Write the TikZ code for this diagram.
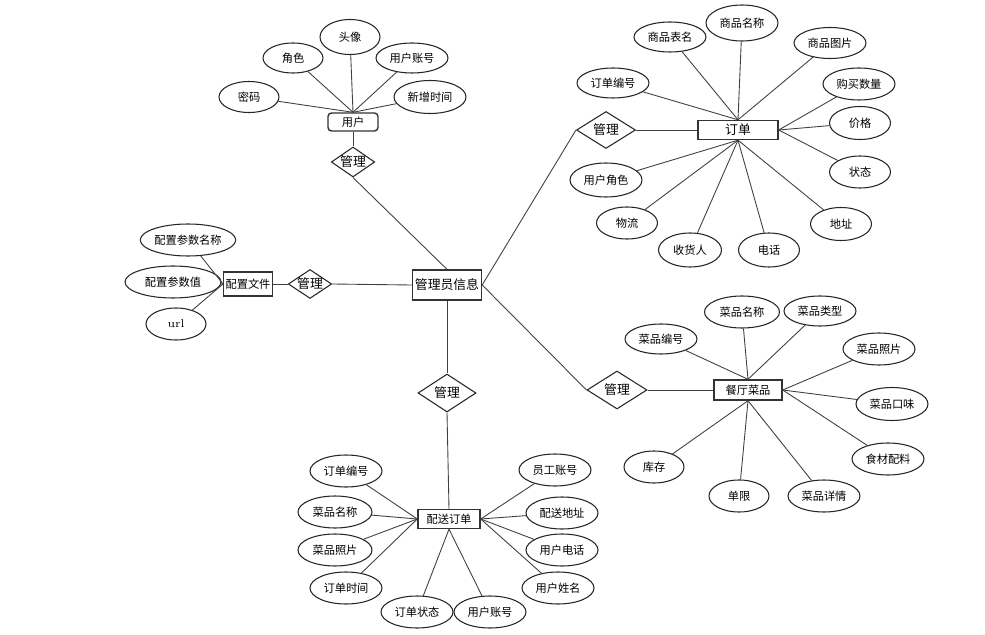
\documentclass[tikz,border=0pt]{standalone}
\usepackage{fontspec}
\newfontfamily\cjk{Noto Sans CJK SC}
\usetikzlibrary{shapes.geometric}
\begin{document}
\begin{tikzpicture}[x=0.02cm,y=-0.02cm,
  conn/.style={draw=black!75, line width=0.5pt},
  attr/.style={ellipse, draw=black!85, line width=0.6pt, inner sep=0pt,
    minimum width=72*0.02cm, minimum height=32*0.02cm, font=\cjk\fontsize{6.4}{7}\selectfont},
  attrs/.style={attr, minimum width=61*0.02cm},
  ent/.style={rectangle, draw=black!80, line width=0.8pt, inner sep=1pt,
    font=\cjk\fontsize{6.4}{7}\selectfont},
  rel/.style={diamond, draw=black!85, line width=0.6pt, inner sep=0pt, shape aspect=1.5,
    font=\cjk\fontsize{7.3}{8}\selectfont}
]
\path[use as bounding box, fill=white] (0,0) rectangle (985,635);

% ---------- central entity ----------
\node[ent, minimum width=69*0.02cm, minimum height=30*0.02cm, font=\cjk\fontsize{7.3}{8}\selectfont] (admin) at (447,285) {管理员信息};

% ---------- user ----------
\node[ent, rounded corners=2pt, minimum width=50*0.02cm, minimum height=18*0.02cm] (user) at (353,122) {用户};
\node[rel, minimum width=43*0.02cm, minimum height=30*0.02cm] (r1) at (353,162) {管理};
\node[attrs, minimum width=60*0.02cm, minimum height=31*0.02cm] (u1) at (249,97) {密码};
\node[attrs, minimum width=60*0.02cm, minimum height=30*0.02cm] (u2) at (293,58) {角色};
\node[attrs, minimum width=60*0.02cm, minimum height=35*0.02cm] (u3) at (350,37) {头像};
\node[attr, minimum height=30*0.02cm] (u4) at (412,58) {用户账号};
\node[attr, minimum height=33*0.02cm] (u5) at (430,97) {新增时间};
\foreach \a in {u1,u2,u3,u4,u5} \draw[conn] (\a) -- (user.north);
\draw[conn] (user.south) -- (r1.north);
\draw[conn] (r1.south) -- (admin.north);

% ---------- config ----------
\node[ent, minimum width=48*0.02cm, minimum height=24*0.02cm] (cfg) at (248,284) {配置文件};
\node[rel, minimum width=42*0.02cm, minimum height=27*0.02cm] (r2) at (310,284) {管理};
\node[attr, minimum width=92*0.02cm] (c1) at (188,240) {配置参数名称};
\node[attr, minimum width=96*0.02cm] (c2) at (173,282) {配置参数值};
\node[attrs, minimum width=60*0.02cm, font=\fontsize{6.4}{7}\selectfont] (c3) at (176,324) {url};
\foreach \a in {c1,c2,c3} \draw[conn] (\a) -- (cfg.west);
\draw[conn] (cfg.east) -- (r2.west);
\draw[conn] (r2.east) -- (admin.west);

% ---------- order ----------
\node[ent, minimum width=80*0.02cm, minimum height=19*0.02cm, font=\cjk\fontsize{7.3}{8}\selectfont] (order) at (738,130) {订单};
\node[rel, minimum width=59*0.02cm, minimum height=37*0.02cm] (r4) at (606,130) {管理};
\node[attr, minimum height=30*0.02cm] (o1) at (613,83) {订单编号};
\node[attr, minimum height=30*0.02cm] (o2) at (670,37) {商品表名};
\node[attr, minimum height=36*0.02cm] (o3) at (742,23) {商品名称};
\node[attr, minimum height=31*0.02cm] (o4) at (830,43) {商品图片};
\node[attr] (o5) at (859,84) {购买数量};
\node[attrs, minimum height=33*0.02cm] (o6) at (860,123) {价格};
\node[attrs] (o7) at (860,172) {状态};
\node[attrs, minimum height=33*0.02cm] (o8) at (841,224) {地址};
\node[attrs, minimum height=34*0.02cm] (o9) at (769,250) {电话};
\node[attrs, minimum width=63*0.02cm, minimum height=34*0.02cm] (o10) at (690,250) {收货人};
\node[attrs] (o11) at (627,223) {物流};
\node[attr, minimum height=34*0.02cm] (o12) at (606,180) {用户角色};
\foreach \a in {o1,o2,o3,o4} \draw[conn] (\a) -- (order.north);
\foreach \a in {o5,o6,o7} \draw[conn] (\a) -- (order.east);
\foreach \a in {o8,o9,o10,o11,o12} \draw[conn] (\a) -- (order.south);
\draw[conn] (order.west) -- (r4.east);
\draw[conn] (r4.west) -- (admin.east);

% ---------- dishes ----------
\node[ent, minimum width=68*0.02cm, minimum height=20*0.02cm] (dish) at (748,390) {餐厅菜品};
\node[rel, minimum width=60*0.02cm, minimum height=38*0.02cm] (r5) at (617,390) {管理};
\node[attr, minimum height=30*0.02cm] (d1) at (661,339) {菜品编号};
\node[attr, minimum width=75*0.02cm] (d2) at (742,312) {菜品名称};
\node[attr, minimum height=30*0.02cm] (d3) at (820,311) {菜品类型};
\node[attr] (d4) at (879,349) {菜品照片};
\node[attr, minimum height=33*0.02cm] (d5) at (892,404) {菜品口味};
\node[attr] (d6) at (888,459) {食材配料};
\node[attr] (d7) at (824,496) {菜品详情};
\node[attrs, minimum width=60*0.02cm] (d8) at (739,496) {单限};
\node[attrs, minimum width=60*0.02cm] (d9) at (654,467) {库存};
\foreach \a in {d1,d2,d3} \draw[conn] (\a) -- (dish.north);
\foreach \a in {d4,d5,d6} \draw[conn] (\a) -- (dish.east);
\foreach \a in {d7,d8,d9} \draw[conn] (\a) -- (dish.south);
\draw[conn] (admin.east) -- (r5.west);
\draw[conn] (r5.east) -- (dish.west);

% ---------- delivery ----------
\node[ent, minimum width=62*0.02cm, minimum height=19*0.02cm] (dord) at (449,519) {配送订单};
\node[rel, minimum width=58*0.02cm, minimum height=38*0.02cm] (r3) at (447,393) {管理};
\node[attr] (p1) at (346,471) {订单编号};
\node[attr, minimum width=74*0.02cm] (p2) at (335,512) {菜品名称};
\node[attr, minimum width=74*0.02cm] (p3) at (335,550) {菜品照片};
\node[attr] (p4) at (346,588) {订单时间};
\node[attr] (p5) at (417,612) {订单状态};
\node[attr] (p6) at (490,612) {用户账号};
\node[attr] (p7) at (555,470) {员工账号};
\node[attr] (p8) at (562,513) {配送地址};
\node[attr] (p9) at (562,550) {用户电话};
\node[attr] (p10) at (558,588) {用户姓名};
\foreach \a in {p1,p2,p3,p4} \draw[conn] (\a) -- (dord.west);
\foreach \a in {p5,p6} \draw[conn] (\a) -- (dord.south);
\foreach \a in {p7,p8,p9,p10} \draw[conn] (\a) -- (dord.east);
\draw[conn] (admin.south) -- (r3.north);
\draw[conn] (r3.south) -- (dord.north);
\end{tikzpicture}
\end{document}
